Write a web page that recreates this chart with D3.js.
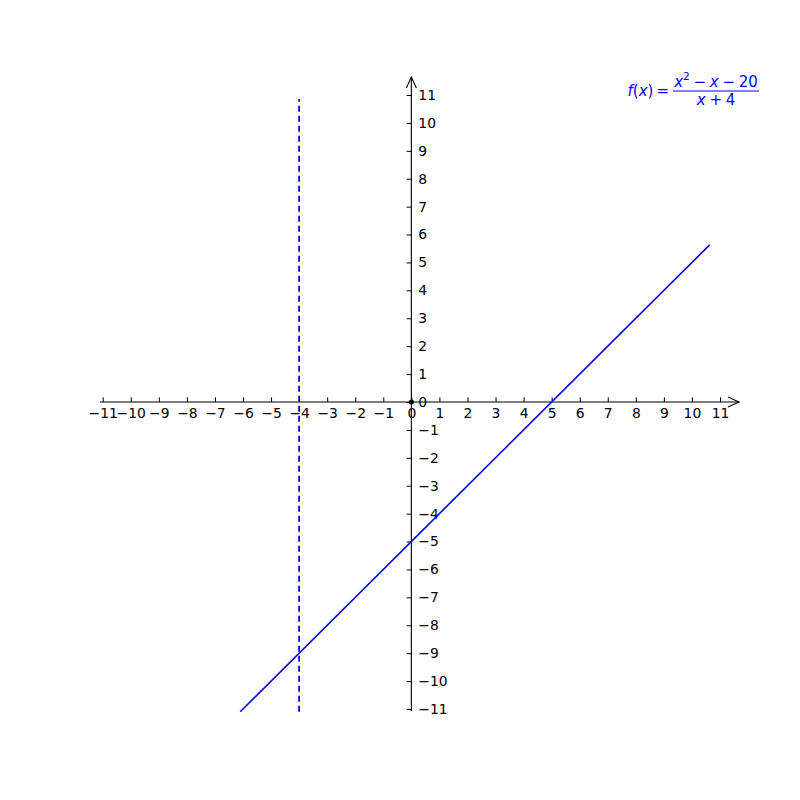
<!DOCTYPE html>
<html>
<head>
<meta charset="utf-8">
<script src="https://cdn.jsdelivr.net/npm/d3@7"></script>
<style>
  body { margin: 0; background: #fff; }
  text { font-family: "DejaVu Sans", sans-serif; }
</style>
</head>
<body>
<div id="root"></div>
<script>
// data
var xTicks = [-11, -10, -9, -8, -7, -6, -5, -4, -3, -2, -1, 0, 1, 2, 3, 4, 5, 6, 7, 8, 9, 10, 11];
var yTicks = [-11, -10, -9, -8, -7, -6, -5, -4, -3, -2, -1, 0, 1, 2, 3, 4, 5, 6, 7, 8, 9, 10, 11];
// f(x) = (x^2 - x - 20)/(x + 4) simplifies to x - 5, drawn between the clip edges
var curveX = [-6.1, 10.63];
var curveY = [-11.1, 5.63];
// vertical asymptote
var asymX = [-4, -4];
var asymY = [-11.1, 10.85];

var w = 800, h = 800;
var blue = "#0000ff";

var svg = d3.select("#root").append("svg")
    .attr("width", w)
    .attr("height", h);

var x = d3.scaleLinear().domain([-11, 11]).range([102.7, 720]);
var y = d3.scaleLinear().domain([-11, 11]).range([709, 95]);

var fmt = function(d) { return d < 0 ? "\u2212" + Math.abs(d) : "" + d; };

// axis lines with open arrow heads
var ax = svg.append("g").attr("stroke", "#000").attr("stroke-width", 1.1).attr("fill", "none");
ax.append("line").attr("x1", 100).attr("x2", 739).attr("y1", y(0)).attr("y2", y(0));
ax.append("path").attr("d", "M" + 728 + "," + (y(0) - 5) + "L739," + y(0) + "L728," + (y(0) + 5));
ax.append("line").attr("x1", x(0)).attr("x2", x(0)).attr("y1", 711).attr("y2", 77);
ax.append("path").attr("d", "M" + (x(0) - 5) + ",88L" + x(0) + ",77L" + (x(0) + 5) + ",88");

// x axis: ticks point up, labels below
var gx = svg.append("g")
    .attr("transform", "translate(0," + y(0) + ")")
    .call(d3.axisBottom(x).tickValues(xTicks).tickFormat(fmt)
        .tickSizeInner(-4.7).tickSizeOuter(0).tickPadding(6));
gx.select(".domain").remove();
gx.selectAll("text").attr("font-size", "13.9px").attr("font-family", "DejaVu Sans").attr("fill", "#000");
gx.selectAll("line").attr("stroke", "#000");

// y axis: ticks point left, labels right
var gy = svg.append("g")
    .attr("transform", "translate(" + x(0) + ",0)")
    .call(d3.axisRight(y).tickValues(yTicks).tickFormat(fmt)
        .tickSizeInner(-4.7).tickSizeOuter(0).tickPadding(7));
gy.select(".domain").remove();
gy.selectAll("text").attr("font-size", "13.9px").attr("font-family", "DejaVu Sans").attr("fill", "#000");
gy.selectAll("line").attr("stroke", "#000");

// origin dot
svg.append("circle").attr("cx", x(0)).attr("cy", y(0)).attr("r", 2.5).attr("fill", "#000");

var line = d3.line()
    .x(function(d) { return x(d[0]); })
    .y(function(d) { return y(d[1]); });

svg.append("path")
    .datum(d3.zip(curveX, curveY))
    .attr("d", line)
    .attr("fill", "none")
    .attr("stroke", blue)
    .attr("stroke-width", 1.6);

svg.append("path")
    .datum(d3.zip(asymX, asymY))
    .attr("d", line)
    .attr("fill", "none")
    .attr("stroke", blue)
    .attr("stroke-width", 1.8)
    .attr("stroke-dasharray", "6,4");

// formula label, top right
var lab = svg.append("g").attr("fill", blue).attr("font-size", "15px");
var t1 = lab.append("text").attr("x", 669).attr("y", 96).attr("text-anchor", "end");
t1.append("tspan").attr("font-style", "italic").text("f");
t1.append("tspan").text("(");
t1.append("tspan").attr("font-style", "italic").text("x");
t1.append("tspan").text(")\u2009=");

lab.append("line").attr("x1", 673).attr("x2", 759).attr("y1", 91).attr("y2", 91)
    .attr("stroke", blue).attr("stroke-width", 1);

var num = lab.append("text").attr("x", 716).attr("y", 87).attr("text-anchor", "middle");
num.append("tspan").attr("font-style", "italic").text("x");
num.append("tspan").attr("font-size", "10.5px").attr("dy", -7).text("2");
num.append("tspan").attr("dy", 7).text("\u2005\u2212\u2005");
num.append("tspan").attr("font-style", "italic").text("x");
num.append("tspan").text("\u2005\u2212\u200520");

var den = lab.append("text").attr("x", 716).attr("y", 105).attr("text-anchor", "middle");
den.append("tspan").attr("font-style", "italic").text("x");
den.append("tspan").text("\u2005+\u20054");
</script>
</body>
</html>
